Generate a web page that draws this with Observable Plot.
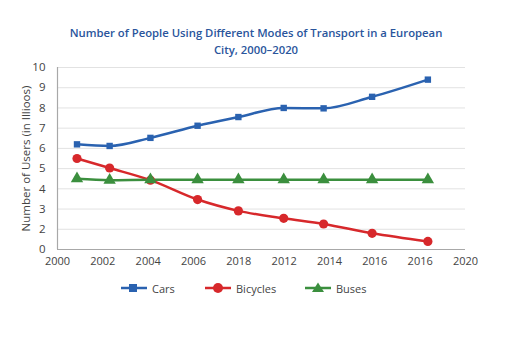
<!DOCTYPE html>
<html>
<head>
<meta charset="utf-8">
<script src="https://cdn.jsdelivr.net/npm/d3@7"></script>
<script src="https://cdn.jsdelivr.net/npm/@observablehq/plot@0.6"></script>
<style>
  html, body { margin: 0; padding: 0; background: #fff; }
  #wrap { width: 512px; height: 341px; position: relative; font-family: "Open Sans", "Noto Sans", sans-serif; }
  #title { box-sizing: border-box; height: 60px; padding-top: 24px; text-align: center;
           color: #2a559c; font-weight: 600; font-size: 11.3px; line-height: 17px; }
  #chart svg { display: block; }
  #legend { display: flex; height: 16px; align-items: center; font-size: 11px; color: #444; position: relative; }
  .item { position: absolute; display: flex; align-items: center; }
  .item svg { margin-right: 5px; }
</style>
</head>
<body>
<div id="wrap">
  <div id="title">Number of People Using Different Modes of Transport in a European<br>City, 2000–2020</div>
  <div id="chart"></div>
  <div id="legend"></div>
</div>
<script>
// Axis labels as printed along the axes
const xLabels = ["2000", "2002", "2004", "2006", "2018", "2012", "2014", "2016", "2016", "2020"];
const yLabels = ["0", "2", "3", "4", "5", "6", "7", "8", "9", "10"];

// Horizontal position of each observation, in axis-tick units
const xPos = [0.43, 1.15, 2.05, 3.09, 3.99, 4.99, 5.87, 6.94, 8.17];

// Users per mode of transport
const cars     = [6.2, 6.12, 6.52, 7.12, 7.55, 8.0, 7.98, 8.55, 9.4];
const bicycles = [5.5, 5.03, 4.43, 3.47, 2.91, 2.54, 2.26, 1.6, 0.8];
const buses    = [4.5, 4.43, 4.45, 4.45, 4.45, 4.45, 4.45, 4.45, 4.45];

const seriesNames = ["Cars", "Bicycles", "Buses"];
const seriesColors = ["#2a62b0", "#d7282b", "#3b8f3e"];

const rows = [cars, bicycles, buses].flatMap((vals, s) =>
  vals.map((v, i) => ({series: seriesNames[s], x: xPos[i], y: v})));

// The value axis skips 1: the 0–2 band takes one grid step, every later unit one step
const yStep = v => (v >= 2 ? v - 1 : v / 2);
const yOf = d => yStep(d.y);

const W = 512, H = 220;
const plot = Plot.plot({
  width: W,
  height: H,
  marginLeft: 57,
  marginRight: 47,
  marginTop: 7,
  marginBottom: 31,
  style: {fontFamily: "'Open Sans', 'Noto Sans', sans-serif", fontSize: "11px", color: "#444"},
  x: {domain: [0, 9]},
  y: {domain: [0, 9]},
  color: {domain: seriesNames, range: seriesColors},
  marks: [
    Plot.ruleY(d3.range(10), {stroke: "#e2e2e2", strokeWidth: 1}),
    Plot.ruleY([0], {stroke: "#a8a8a8", strokeWidth: 1.2}),
    Plot.ruleX([0], {stroke: "#a8a8a8", strokeWidth: 1.2}),
    Plot.axisX({ticks: d3.range(10), tickFormat: i => xLabels[i], tickSize: 0, tickPadding: 8, fontSize: 11, label: null}),
    Plot.axisY({ticks: d3.range(10), tickFormat: i => yLabels[i], tickSize: 0, tickPadding: 12, fontSize: 11.5,
      label: "Number of Users (in Illioos)", labelAnchor: "center", labelArrow: "none", labelOffset: 36}),
    Plot.line(rows, {x: "x", y: yOf, z: "series", stroke: "series", strokeWidth: 2.5, curve: "monotone-x"}),
    Plot.dot(rows.filter(d => d.series === "Cars"), {x: "x", y: yOf, symbol: "square", fill: "#2a62b0", r: 3.6}),
    Plot.dot(rows.filter(d => d.series === "Bicycles"), {x: "x", y: yOf, symbol: "circle", fill: "#d7282b", r: 4.6}),
    Plot.dot(rows.filter(d => d.series === "Buses"), {x: "x", y: yOf, symbol: "triangle", fill: "#3b8f3e", r: 4.6})
  ]
});
document.getElementById("chart").appendChild(plot);

// Legend: line-and-marker swatches with names
const legend = document.getElementById("legend");
const lefts = [121, 205, 305];
const markers = [
  c => `<rect x="8" y="4" width="8" height="8" fill="${c}"/>`,
  c => `<circle cx="13" cy="8" r="5" fill="${c}"/>`,
  c => `<path d="M13 2.5 L19 12 L7 12 Z" fill="${c}"/>`
];
seriesNames.forEach((name, i) => {
  const div = document.createElement("div");
  div.className = "item";
  div.style.left = lefts[i] + "px";
  div.innerHTML = `<svg width="26" height="16"><line x1="0" x2="26" y1="8" y2="8" stroke="${seriesColors[i]}" stroke-width="2.5"/>${markers[i](seriesColors[i])}</svg><span>${name}</span>`;
  legend.appendChild(div);
});
</script>
</body>
</html>
